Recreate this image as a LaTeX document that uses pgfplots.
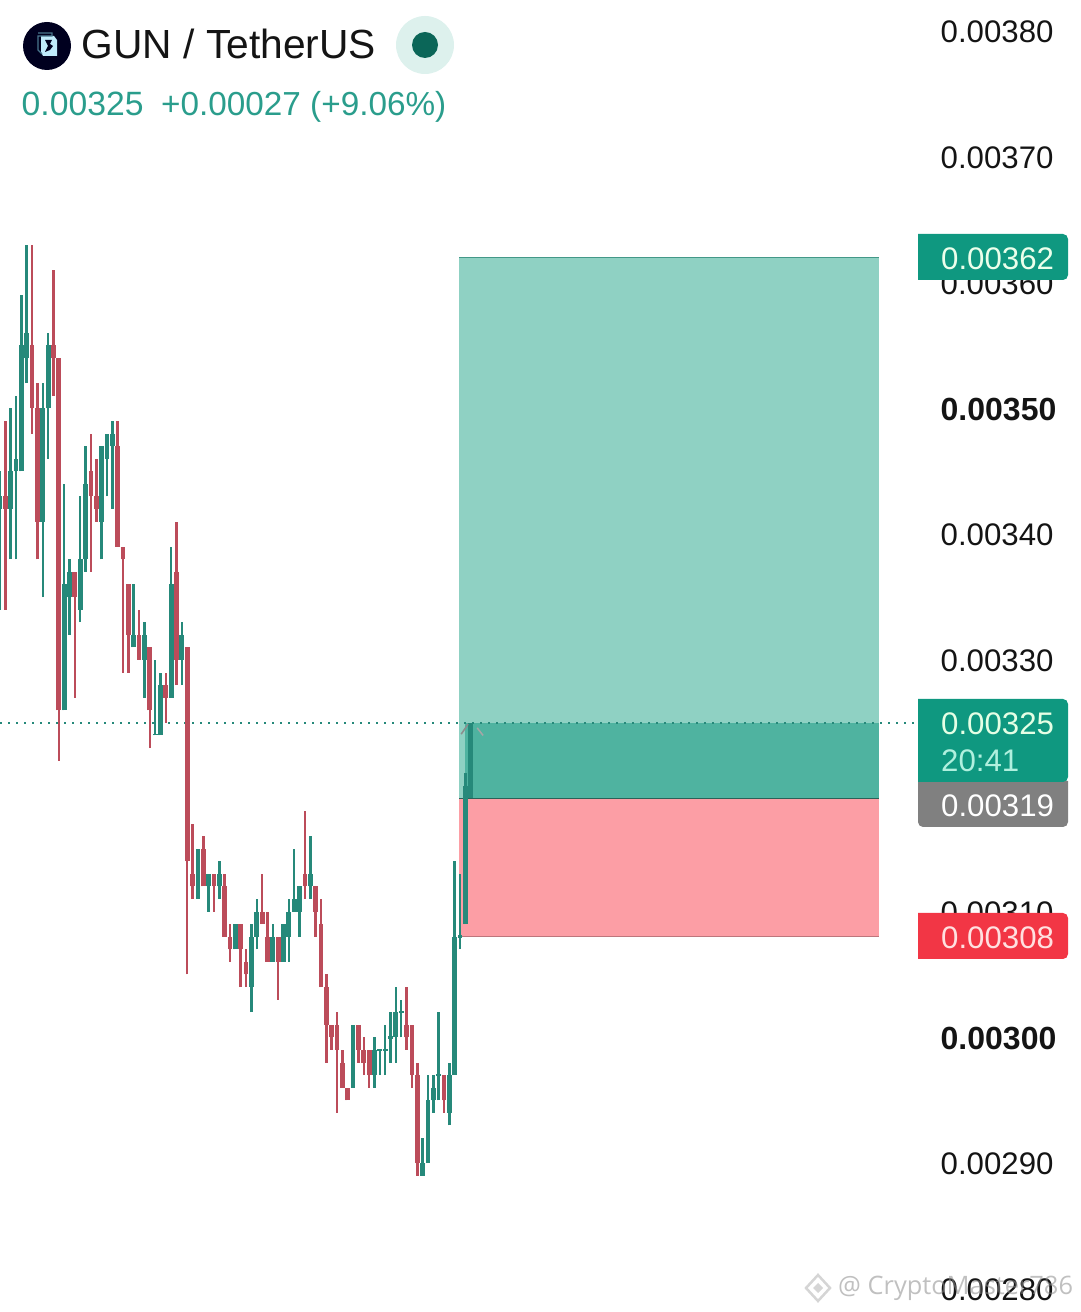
\documentclass[border=0pt]{standalone}
\usepackage{pgfplots}
\usepackage{pgfplotstable}
\usepackage{fontspec}
\setmainfont{Liberation Sans}
\newfontfamily\wmfont{Open Sans}
\pgfplotsset{compat=1.18}
\definecolor{gcol}{HTML}{26897A}
\definecolor{rcol}{HTML}{BC4C5A}
\definecolor{boxg}{HTML}{8FD1C3}
\definecolor{boxd}{HTML}{4FB3A0}
\definecolor{boxr}{HTML}{FC9EA5}
\definecolor{hdr}{HTML}{2A9D8C}
\definecolor{bgreen}{HTML}{0F9880}
\definecolor{bgrey}{HTML}{808080}
\definecolor{bred}{HTML}{F23645}
\pgfplotstableread{
x o h l c
0 0.00342 0.00345 0.00334 0.00343
2 0.00342 0.00350 0.00338 0.00345
3 0.00345 0.00351 0.00338 0.00346
4 0.00345 0.00359 0.00345 0.00355
5 0.00354 0.00363 0.00352 0.00356
8 0.00341 0.00352 0.00335 0.00350
9 0.00350 0.00356 0.00346 0.00355
12 0.00326 0.00344 0.00326 0.00336
13 0.00335 0.00338 0.00332 0.00337
15 0.00334 0.00343 0.00333 0.00338
16 0.00338 0.00347 0.00337 0.00344
19 0.00341 0.00347 0.00338 0.00347
20 0.00346 0.00348 0.00343 0.00348
21 0.00347 0.00349 0.00342 0.00348
25 0.00331 0.00336 0.00331 0.00332
27 0.00330 0.00333 0.00327 0.00332
29 0.00324 0.00330 0.00324 0.003241
30 0.00324 0.00329 0.00324 0.00328
32 0.00327 0.00339 0.00327 0.00336
34 0.00330 0.00333 0.00328 0.00332
37 0.00311 0.00315 0.00311 0.00315
39 0.00312 0.00313 0.00310 0.00313
41 0.00312 0.00314 0.00311 0.00313
44 0.00307 0.00309 0.00307 0.00309
47 0.00304 0.00309 0.00302 0.00308
48 0.00308 0.00311 0.00307 0.00310
51 0.00306 0.00309 0.00306 0.00308
53 0.00306 0.00309 0.00306 0.00309
54 0.00308 0.00311 0.00306 0.00310
55 0.00310 0.00315 0.00310 0.00311
56 0.00310 0.00312 0.00308 0.00312
58 0.00312 0.00316 0.00311 0.00313
66 0.00296 0.00301 0.00296 0.00301
70 0.00297 0.00300 0.00296 0.00299
71 0.002989 0.002991 0.00297 0.002991
72 0.002989 0.00301 0.00297 0.002991
73 0.002999 0.00302 0.00298 0.003001
74 0.00300 0.00304 0.00298 0.00302
75 0.003019 0.00303 0.00300 0.003021
79 0.00289 0.00292 0.00289 0.00290
80 0.00290 0.00297 0.00290 0.00295
81 0.00295 0.00297 0.00294 0.00296
82 0.002969 0.00302 0.00295 0.002971
84 0.00294 0.00298 0.00293 0.00297
85 0.00297 0.00314 0.00297 0.00308
86 0.003079 0.00313 0.00307 0.003081
87 0.00309 0.00321 0.00309 0.00320
88 0.00319 0.00325 0.00319 0.00325
}\greentable
\pgfplotstableread{
x o h l c
1 0.00343 0.00349 0.00334 0.00342
6 0.00355 0.00363 0.00348 0.00350
7 0.00350 0.00352 0.00338 0.00341
10 0.00355 0.00361 0.00351 0.00354
11 0.00354 0.00354 0.00322 0.00326
14 0.00337 0.00337 0.00327 0.00335
17 0.00345 0.00348 0.00337 0.00343
18 0.00343 0.00346 0.00341 0.00342
22 0.00347 0.00349 0.00339 0.00339
23 0.00339 0.00339 0.00329 0.00338
24 0.00336 0.00336 0.00329 0.00332
26 0.00332 0.00334 0.00330 0.00330
28 0.00331 0.00331 0.00323 0.00326
31 0.00328 0.00329 0.00325 0.00327
33 0.00337 0.00341 0.00328 0.00330
35 0.00331 0.00331 0.00305 0.00314
36 0.00313 0.00317 0.00311 0.00312
38 0.00315 0.00316 0.00312 0.00312
40 0.00313 0.00313 0.00310 0.00312
42 0.00312 0.00313 0.00308 0.00308
43 0.00308 0.00309 0.00306 0.00307
45 0.00309 0.00309 0.00304 0.00307
46 0.00306 0.00307 0.00304 0.00305
49 0.00310 0.00313 0.00309 0.00309
50 0.00308 0.00310 0.00306 0.00306
52 0.00308 0.00308 0.00303 0.00306
57 0.00313 0.00318 0.00311 0.00312
59 0.00312 0.00312 0.00308 0.00310
60 0.00309 0.00311 0.00304 0.00304
61 0.00304 0.00305 0.00298 0.00301
62 0.00301 0.00301 0.00299 0.00300
63 0.00301 0.00302 0.00294 0.00299
64 0.00298 0.00299 0.00296 0.00296
65 0.00296 0.00296 0.00295 0.00295
67 0.00301 0.00301 0.00298 0.00299
68 0.00299 0.00300 0.00297 0.00298
69 0.00299 0.00299 0.00296 0.00297
76 0.00301 0.00304 0.00299 0.00300
77 0.00301 0.00301 0.00296 0.00297
78 0.00297 0.00298 0.00289 0.00290
83 0.00297 0.00297 0.00294 0.00295
}\redtable
\newcommand\boldtick[1]{{\fontsize{32}{34}\selectfont\textbf{#1}}}
\begin{document}
\begin{tikzpicture}
\useasboundingbox (0,0) rectangle (1080pt,1312pt);
\begin{axis}[
  at={(0,0)}, anchor=south west,
  scale only axis, width=1080pt, height=1312pt,
  xmin=0, xmax=201.87,
  ymin=0.0027817, ymax=0.0038246,
  axis line style={draw=none},
  major tick length=0pt,
  xtick=\empty,
  scaled y ticks=false,
  ytick={0.0028,0.0029,0.0030,0.0031,0.0033,0.0034,0.0035,0.0036,0.0037,0.0038},
  yticklabels={0.00280,0.00290,\boldtick{0.00300},0.00310,0.00330,0.00340,\boldtick{0.00350},0.00360,0.00370,0.00380},
  ytick pos=right,
  yticklabel pos=right,
  yticklabel style={anchor=west, inner sep=0pt, xshift=-139.5pt, yshift=-0.8pt, font=\fontsize{31.2}{34}\selectfont, text=black!92},
]
% position boxes
\addplot[draw=none, fill=boxg] coordinates {(85.8,0.00319) (85.8,0.00362) (164.3,0.00362) (164.3,0.00319)} -- cycle;
\addplot[draw=none, fill=boxd] coordinates {(86.9,0.00319) (86.9,0.00325) (164.3,0.00325) (164.3,0.00319)} -- cycle;
\addplot[draw=none, fill=boxr] coordinates {(85.8,0.00308) (85.8,0.00319) (164.3,0.00319) (164.3,0.00308)} -- cycle;
\addplot[color=boxd!85!black, line width=1.5pt] coordinates {(85.8,0.00362) (164.3,0.00362)};
\addplot[color=black!45!boxd, line width=1.5pt] coordinates {(85.8,0.00319) (164.3,0.00319)};
\addplot[color=black!25!boxr, line width=1.5pt] coordinates {(85.8,0.00308) (164.3,0.00308)};
% last price line
\addplot[color=gcol, line width=1.8pt, dash pattern=on 2.2pt off 5.8pt] coordinates {(0,0.00325) (171,0.00325)};
% wicks
\addplot[draw=none, mark=none, error bars/.cd, y dir=plus, y explicit, error mark=none,
  error bar style={color=gcol, line width=2.5pt}]
  table[x=x, y=l, y error plus expr=\thisrow{h}-\thisrow{l}] {\greentable};
\addplot[draw=none, mark=none, error bars/.cd, y dir=plus, y explicit, error mark=none,
  error bar style={color=rcol, line width=2.5pt}]
  table[x=x, y=l, y error plus expr=\thisrow{h}-\thisrow{l}] {\redtable};
% bodies
\addplot[draw=none, mark=none, error bars/.cd, y dir=plus, y explicit, error mark=none,
  error bar style={color=gcol, line width=4.8pt}]
  table[x=x, y=o, y error plus expr=\thisrow{c}-\thisrow{o}] {\greentable};
\addplot[draw=none, mark=none, error bars/.cd, y dir=plus, y explicit, error mark=none,
  error bar style={color=rcol, line width=4.8pt}]
  table[x=x, y=c, y error plus expr=\thisrow{o}-\thisrow{c}] {\redtable};
% arrowhead strokes at the last bar
\addplot[color=black!45, line width=1.5pt] coordinates {(86.2,0.003241) (87.5,0.003249)};
\addplot[color=black!35, line width=1.5pt] coordinates {(89.2,0.003246) (90.3,0.00324)};
\end{axis}
\begin{scope}[shift={(0pt,1312pt)},x=1pt,y=-1pt]
  % price badges
  \fill[bgreen] (918,234) [rounded corners=5pt] -- (1068,234) -- (1068,280) [sharp corners] -- (918,280) -- cycle;
  \fill[bred] (918,913) [rounded corners=5pt] -- (1068,913) -- (1068,959) [sharp corners] -- (918,959) -- cycle;
  \fill[bgrey] (918,781) -- (1068,781) [rounded corners=5pt] -- (1068,827) -- (918,827) [sharp corners] -- cycle;
  \fill[bgreen] (918,699) [rounded corners=5pt] -- (1068,699) -- (1068,782) [sharp corners] -- (918,782) -- cycle;
  \tikzset{bl/.style={anchor=west, inner sep=0pt, font=\fontsize{31.2}{34}\selectfont}}
  \node[bl, text=green!8!white] at (941,258.5) {0.00362};
  \node[bl, text=green!10!white] at (941,723.5) {0.00325};
  \definecolor{tmr}{HTML}{B0F0DE}
  \node[bl, text=tmr] at (941,761) {20:41};
  \node[bl, text=white] at (941,805.5) {0.00319};
  \node[bl, text=red!12!white] at (941,937.5) {0.00308};
  % header
  \fill[black!88!blue] (47,46) circle (24);
  \fill[cyan!25!white] (41,36) -- (54,36) -- (57,40) -- (57,56) -- (43,56) -- (41,52) -- cycle;
  \draw[cyan!50!black, line width=1.2pt] (38,33) -- (52,33) -- (52,36) -- (38,36) -- (38,50) -- (42,54);
  \fill[black!88!blue] (45,40) -- (52,40) -- (50,44) -- (53,46) -- (50,50) -- (45,52) -- (48,46) -- cycle;
  \node[anchor=base west, inner sep=0pt, text=black!92, font=\fontsize{40.7}{44}\selectfont] at (81.5,58.5) {GUN / TetherUS};
  \definecolor{dot}{HTML}{0B6658}
  \fill[boxg!30!white] (425,45) circle (29);
  \fill[dot] (425,45) circle (13);
  \node[anchor=base west, inner sep=0pt, text=hdr, font=\fontsize{33.7}{36}\selectfont] at (21.5,115.5) {0.00325};
  \node[anchor=base west, inner sep=0pt, text=hdr, font=\fontsize{33.3}{36}\selectfont] at (161,115.5) {+0.00027 (+9.06\%)};
  % watermark
  \begin{scope}[opacity=0.55]
    \draw[black!30, line width=2.5pt] (818,1275) -- (830,1288) -- (818,1301) -- (806,1288) -- cycle;
    \fill[black!30] (818,1283) -- (823,1288) -- (818,1293) -- (813,1288) -- cycle;
    \node[anchor=west, inner sep=0pt, text=black!45, font=\wmfont\fontsize{25.4}{28}\selectfont] at (838,1288) {@ CryptoMaster786};
  \end{scope}
\end{scope}
\end{tikzpicture}
\end{document}
